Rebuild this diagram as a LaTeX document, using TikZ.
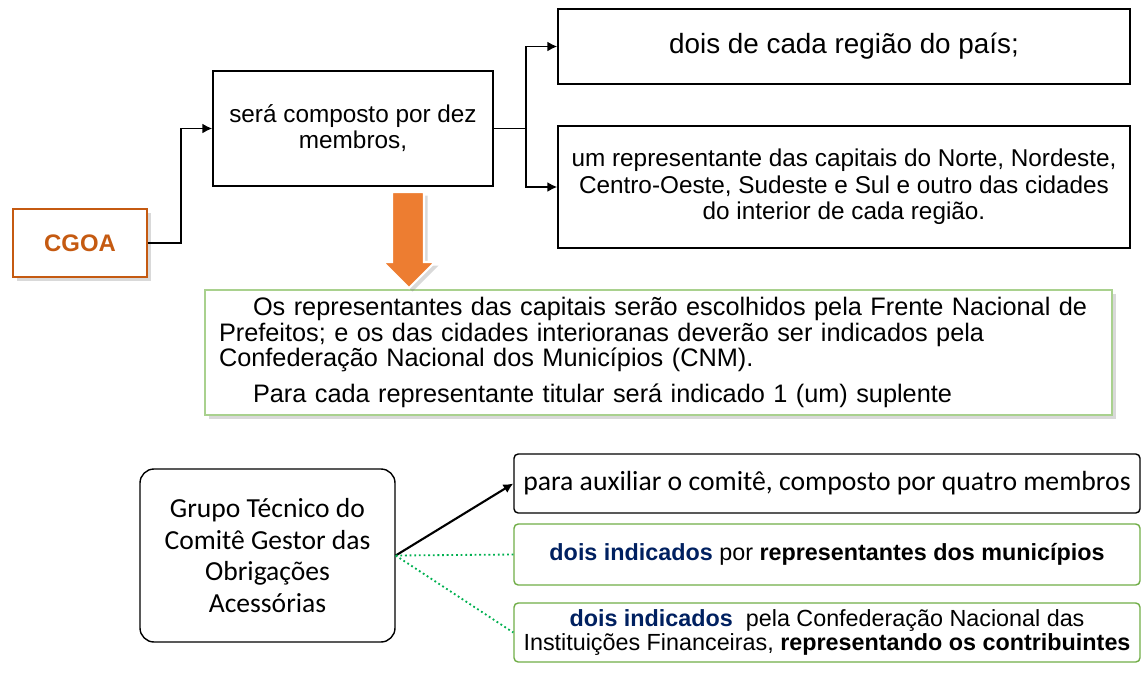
\documentclass[tikz,border=0pt]{standalone}
\usepackage{fontspec}
\setmainfont{Liberation Sans}
\newfontfamily\calibrifont{Carlito}
\usetikzlibrary{shadows,calc,arrows.meta}
\definecolor{cgoaorange}{HTML}{C55A11}
\definecolor{arroworange}{HTML}{ED7D31}
\definecolor{notegreen}{HTML}{A9D18E}
\definecolor{boxgreen}{HTML}{70AD47}
\definecolor{dotgreen}{HTML}{00B050}
\definecolor{darkblue}{HTML}{002060}
\begin{document}
\begin{tikzpicture}[
  plainbox/.style={draw,line width=1pt,align=center,inner sep=2pt},
  softshadow/.style={drop shadow={opacity=.3,shadow xshift=2.5pt,shadow yshift=-2.5pt}},
  sidebox/.style={plainbox,rounded corners=3pt,minimum width=15.65cm,font=\fontsize{16.6}{17}\selectfont},
  link/.style={line width=1.3pt,-{Latex[length=7pt,width=7pt]}}
]
  \useasboundingbox (0,0) rectangle (28.625,-17.025);
  % upper part: CGOA
  \node[plainbox,draw=cgoaorange,fill=white,softshadow,minimum width=3.35cm,minimum height=1.7cm,
        text=cgoaorange,font=\bfseries\fontsize{17}{19}\selectfont] (cgoa) at (2.0,-6.075) {CGOA};
  \node[plainbox,minimum width=7cm,minimum height=2.875cm,font=\fontsize{17.3}{18.5}\selectfont]
        (serabox) at (8.825,-3.2125) {será composto por dez\\membros,};
  \node[plainbox,minimum width=14.3cm,minimum height=1.875cm,font=\fontsize{19.8}{22}\selectfont]
        (dois) at (21.1,-1.1625) {dois de cada região do país;};
  \node[plainbox,minimum width=14.3cm,minimum height=3.05cm,font=\fontsize{17.3}{18.9}\selectfont]
        (umrep) at (21.1,-4.675) {um representante das capitais do Norte, Nordeste,\\
        Centro-Oeste, Sudeste e Sul e outro das cidades\\do interior de cada região.};
  \coordinate (split) at ($(serabox.east)+(0.8,0)$);
  \draw[link] (cgoa.east) -- ++(0.825,0) |- (serabox.west);
  \draw[link] (serabox.east) -- (split) |- (dois.west);
  \draw[link] (split) |- (umrep.west);
  % note under the arrow
  \node[draw=notegreen,line width=1.3pt,fill=white,softshadow,minimum height=3.125cm,
        text width=21.975cm,inner xsep=0.35cm,align=left,font=\fontsize{18}{18.2}\selectfont]
        (nota) at (16.4625,-8.8125) {\hspace*{0.85cm}Os representantes das capitais serão escolhidos pela Frente Nacional de\\
        Prefeitos; e os das cidades interioranas deverão ser indicados pela\\
        Confederação Nacional dos Municípios (CNM).\\[7pt]
        \hspace*{0.85cm}Para cada representante titular será indicado 1 (um) suplente};
  \filldraw[fill=arroworange,draw=white,line width=1.5pt,softshadow]
     (9.8,-4.8) -- (10.6,-4.8) -- (10.6,-6.55) -- (10.875,-6.55) -- (10.225,-7.2)
     -- (9.575,-6.55) -- (9.8,-6.55) -- cycle;
  % lower part: grupo tecnico
  \node[plainbox,rounded corners=10pt,minimum width=6.375cm,minimum height=4.325cm,
        font=\calibrifont\fontsize{19.6}{22.4}\selectfont]
        (grupo) at (6.6875,-13.8875) {Grupo Técnico do\\Comitê Gestor das\\Obrigações\\Acessórias};
  \node[sidebox,minimum height=1.475cm,font=\calibrifont\fontsize{19.7}{22}\selectfont]
        (auxiliar) at (20.675,-12.0875) {para auxiliar o comitê, composto por quatro membros};
  \node[sidebox,draw=boxgreen,minimum height=1.525cm] (munic) at (20.675,-13.8625)
        {{\bfseries\color{darkblue}dois indicados} por {\bfseries representantes dos municípios}};
  \node[sidebox,draw=boxgreen,minimum height=1.475cm] (contrib) at (20.675,-15.8125)
        {{\bfseries\color{darkblue}dois indicados}\ \ pela Confederação Nacional das\\
        Instituições Financeiras, {\bfseries representando os contribuintes}};
  \draw[link,line width=1.5pt] (grupo.east) -- (auxiliar.west);
  \draw[dotgreen,dotted,line width=1.3pt] (grupo.east) -- (munic.west);
  \draw[dotgreen,dotted,line width=1.3pt] (grupo.east) -- (contrib.west);
\end{tikzpicture}
\end{document}
